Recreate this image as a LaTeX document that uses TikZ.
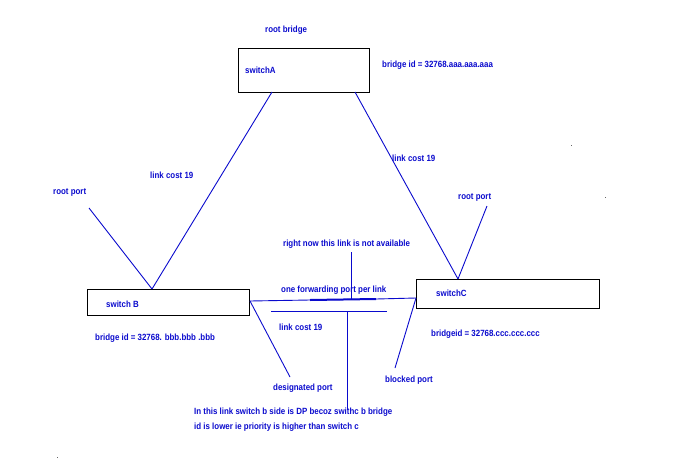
\documentclass[tikz,border=0pt]{standalone}
\usepackage{fontspec}
\newfontfamily\paintfont{Liberation Sans}[FakeStretch=0.88]
\definecolor{paintblue}{RGB}{10,10,205}

\begin{document}
\begin{tikzpicture}[x=1pt,y=-1pt,
	wire/.style={draw=paintblue,line width=0.9pt},
	switch box/.style={draw,line width=1pt,anchor=north west,inner sep=0pt},
	paint text/.style={anchor=west,inner sep=0pt,text=paintblue,
		font=\paintfont\bfseries\fontsize{9}{11}\selectfont}]
	\useasboundingbox (0,0) rectangle (677,472);
	
	% the three switches
	\node[switch box,minimum width=131pt,minimum height=44pt] (A) at (238,48) {};
	\node[switch box,minimum width=162pt,minimum height=26pt] (B) at (87,289) {};
	\node[switch box,minimum width=183pt,minimum height=29pt] (C) at (416,279) {};
	\node[paint text] (nameA) at (245,70) {switchA};
	\node[paint text] (nameB) at (106,304) {switch B};
	\node[paint text] (nameC) at (436,293) {switchC};
	
	\node[paint text] (rootbridge) at (265,30) {root bridge};
	\node[paint text] (idA) at (382,65) {bridge id = 32768.aaa.aaa.aaa};
	\node[paint text] (idB) at (95,338) {bridge id = 32768. bbb.bbb .bbb};
	\node[paint text] (idC) at (431,334) {bridgeid = 32768.ccc.ccc.ccc};
	\node[paint text] (costAB) at (150,175) {link cost 19};
	\node[paint text] (costAC) at (392,158) {link cost 19};
	\node[paint text] (costBC) at (279,327) {link cost 19};
	\node[paint text] (rootB) at (53,192) {root port};
	\node[paint text] (rootC) at (458,197) {root port};
	\node[paint text] (notavail) at (283,244) {right now this link is not available};
	\node[paint text] (oneport) at (281,290) {one forwarding port per link};
	\node[paint text] (desig) at (273,388) {designated port};
	\node[paint text] (blocked) at (385,380) {blocked port};
	\node[paint text,align=left,font=\paintfont\bfseries\fontsize{9}{15.5}\selectfont] (why) at (194,419.5)
		{In this link switch b side is DP becoz swithc b bridge\\id is lower ie priority is higher than switch c};
	
	% port points
	\coordinate (A1) at (272,92);
	\coordinate (A2) at (355,92);
	\coordinate (B1) at (152,289);
	\coordinate (B2) at (250,301);
	\coordinate (C1) at (458,279);
	\coordinate (C2) at (416,298);
	\coordinate (rpB) at (89,208);
	\coordinate (rpC) at (487,206);
	\coordinate (dp) at (290,377);
	\coordinate (bp) at (395,368);
	\coordinate (L1) at (310,300);
	\coordinate (L2) at (376,299);
	\coordinate (N1) at (351,252);
	\coordinate (N2) at (351,299);
	\coordinate (M1) at (271,311);
	\coordinate (M2) at (387,311);
	\coordinate (M3) at (347,311);
	\coordinate (M4) at (347,410);
	
	\draw[wire] (A1) -- (B1);
	\draw[wire] (rpB) -- (B1);
	\draw[wire] (A2) -- (C1);
	\draw[wire] (rpC) -- (C1);
	\draw[wire] (B2) -- (L1) -- (L2) -- (C2);
	\draw[wire,line width=2pt] (L1) -- (L2);
	\draw[wire] (N1) -- (N2);
	\draw[wire] (M1) -- (M2);
	\draw[wire] (M3) -- (M4);
	\draw[wire] (B2) -- (dp);
	\draw[wire] (C2) -- (bp);
	%\draw (B2) -- (C2);
	
	% stray dots
	\fill[black!60] (571,145) rectangle +(1,1);
	\fill[black!60] (605,197) rectangle +(1,1);
	\fill[black!60] (57,457) rectangle +(1,1);
\end{tikzpicture}
\end{document}
